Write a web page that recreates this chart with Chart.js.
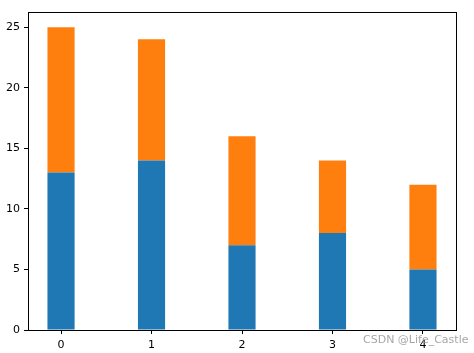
<!DOCTYPE html>
<html>
<head>
<meta charset="utf-8">
<script src="https://cdn.jsdelivr.net/npm/chart.js@4"></script>
<style>
  html, body { margin: 0; padding: 0; background: #fff; }
  #wrap { position: relative; width: 474px; height: 353px; }
  #mark {
    position: absolute; left: 363px; top: 333px;
    font: 11px "DejaVu Sans", sans-serif; color: rgba(150,150,150,0.85);
    white-space: nowrap;
  }
</style>
</head>
<body>
<div id="wrap">
  <canvas id="graphicStack" width="474" height="353"></canvas>
  <div id="mark">CSDN @Life_Castle</div>
</div>
<script>
// stacked bars, matplotlib look
const positions = [0, 1, 2, 3, 4];
const bottomVals = [13, 14, 7, 8, 5];
const topVals = [12, 10, 9, 6, 7];

const tickFont = { family: 'DejaVu Sans', size: 11 };

// frame around the plot area (all four spines)
const frame = {
  id: 'frame',
  afterDraw(chart) {
    const a = chart.chartArea;
    const ctx = chart.ctx;
    ctx.save();
    ctx.strokeStyle = '#000';
    ctx.lineWidth = 1;
    ctx.strokeRect(Math.round(a.left) + 0.5, Math.round(a.top) + 0.5,
      Math.round(a.right - a.left), Math.round(a.bottom - a.top));
    ctx.restore();
  }
};

let chart1;
function drawStack(){
  var ctx = document.getElementById('graphicStack').getContext('2d');
  if (chart1) {
    chart1.destroy();
  }
  chart1 = new Chart(ctx, {
    type: 'bar',
    data: {
      datasets: [
        {
          label: 'a',
          data: positions.map((p, i) => ({ x: p, y: bottomVals[i] })),
          backgroundColor: '#1f77b4',
        },
        {
          label: 'b',
          data: positions.map((p, i) => ({ x: p, y: topVals[i] })),
          backgroundColor: '#ff7f0e',
        }
      ]
    },
    plugins: [frame],
    options: {
      responsive: false,
      animation: false,
      barPercentage: 1,
      categoryPercentage: 0.3,
      layout: { padding: { top: 12, right: 18, left: 0, bottom: 0 } },
      plugins: { legend: { display: false }, tooltip: { enabled: false } },
      scales: {
        x: {
          type: 'linear',
          stacked: true,
          offset: false,
          min: -0.365,
          max: 4.365,
          afterFit: (s) => { s.height = 23; },
          grid: { offset: false, drawOnChartArea: false, drawTicks: true, tickLength: 4, color: '#000' },
          border: { display: false },
          ticks: { stepSize: 1, includeBounds: false, color: '#000', font: tickFont, padding: 5, maxRotation: 0 }
        },
        y: {
          stacked: true,
          min: 0,
          max: 26.25,
          afterFit: (s) => { s.width = 28; },
          grid: { drawOnChartArea: false, drawTicks: true, tickLength: 4, color: '#000' },
          border: { display: false },
          ticks: { stepSize: 5, includeBounds: false, color: '#000', font: tickFont, padding: 4 }
        }
      }
    }
  });
}

drawStack();
</script>
</body>
</html>
